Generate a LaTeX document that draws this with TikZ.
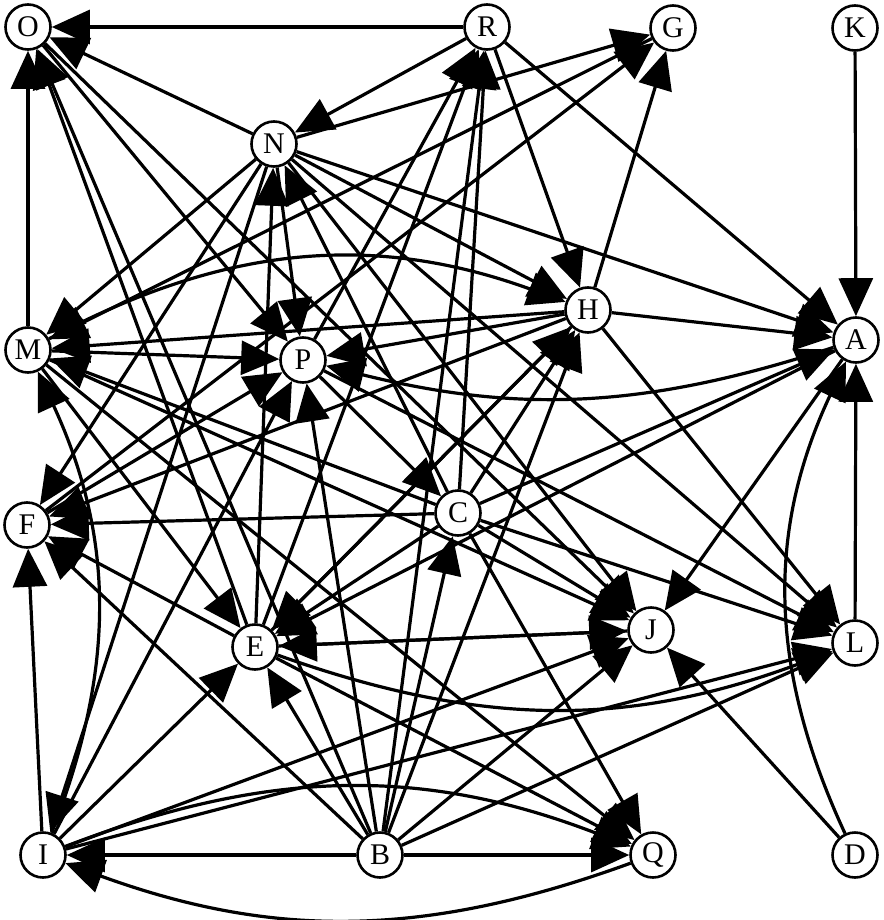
\documentclass[tikz,border=0pt]{standalone}
\usepackage{fontspec}
\setmainfont{Liberation Serif}
\usetikzlibrary{arrows.meta}
\begin{document}
\begin{tikzpicture}[x=1pt,y=-1pt,
  vtx/.style={circle,draw,line width=2.6pt,fill=white,minimum size=45pt,inner sep=0pt,font=\fontsize{30}{30}\selectfont},
  arc/.style={line width=3.2pt,-{Triangle[length=38pt,width=34pt]}},
]
\fill[white] (0,0) rectangle (883,920);
\useasboundingbox (0,0) rectangle (883,920);
\node[vtx] (O) at (28,27) {O};
\node[vtx] (R) at (487,27) {R};
\node[vtx] (G) at (673,28) {G};
\node[vtx] (K) at (855,28) {K};
\node[vtx] (N) at (274,144) {N};
\node[vtx] (H) at (588,310) {H};
\node[vtx] (M) at (28,350) {M};
\node[vtx] (P) at (303,360) {P};
\node[vtx] (A) at (856,340) {A};
\node[vtx] (F) at (27,525) {F};
\node[vtx] (C) at (458,513) {C};
\node[vtx] (E) at (255,647) {E};
\node[vtx] (J) at (651,630) {J};
\node[vtx] (L) at (855,643) {L};
\node[vtx] (I) at (43,855) {I};
\node[vtx] (B) at (380,855) {B};
\node[vtx] (Q) at (653,855) {Q};
\node[vtx] (D) at (855,855) {D};
\foreach \s/\t in {R/O,M/O,N/O,E/O,B/O,O/P,O/J,R/N,N/G,G/M,F/G,H/G,R/H,R/A,C/R,P/R,E/R,B/R,
  K/A,L/A,N/A,H/A,C/A,N/P,M/P,H/P,F/P,I/P,B/P,N/H,C/H,B/H,E/H,H/M,N/M,C/M,
  I/F,E/F,C/F,B/F,N/F,H/F,N/I,E/N,C/N,P/C,B/C,A/E,H/E,J/E,B/E,I/E,C/E,M/E,
  N/J,D/J,C/J,E/J,B/J,I/J,A/J,M/J,N/L,P/L,C/L,I/L,B/L,H/L,B/Q,C/Q,E/Q,M/Q,B/I}
  \draw[arc] (\s) -- (\t);
\draw[arc] (D) to[bend left=25] (A);
\draw[arc] (I) to[bend left=21] (Q);
\draw[arc] (Q) to[bend left=20] (I);
\draw[arc] (E) to[bend right=20] (L);
\draw[arc] (A) to[bend left=16] (P);
\draw[arc] (M) to[bend left=24] (H);
\draw[arc] (I) to[bend right=23] (M);
\end{tikzpicture}
\end{document}
